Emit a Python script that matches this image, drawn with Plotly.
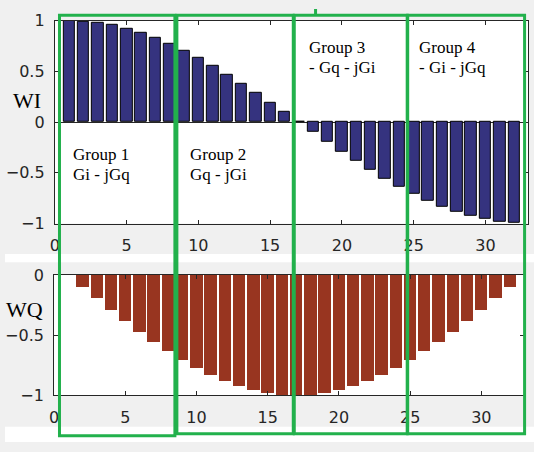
import plotly.graph_objects as go
from plotly.subplots import make_subplots

W, H = 534, 452

# bar index 1..32
idx = list(range(1, 33))

# values
wi = [1.00, 0.995, 0.981, 0.957, 0.924, 0.882, 0.831, 0.773,
      0.707, 0.634, 0.556, 0.471, 0.383, 0.290, 0.195, 0.098,
      0.0, -0.098, -0.195, -0.290, -0.383, -0.471, -0.556, -0.634,
      -0.707, -0.773, -0.831, -0.882, -0.924, -0.957, -0.981, -0.995]
wq = [0.0, -0.098, -0.195, -0.290, -0.383, -0.471, -0.556, -0.634,
      -0.707, -0.773, -0.831, -0.882, -0.924, -0.957, -0.981, -0.995,
      -1.0, -0.995, -0.981, -0.957, -0.924, -0.882, -0.831, -0.773,
      -0.707, -0.634, -0.556, -0.471, -0.383, -0.290, -0.195, -0.098]

x_ticks = [0, 5, 10, 15, 20, 25, 30]
wi_ticks = [-1, -0.5, 0, 0.5, 1]
wq_ticks = [-1, -0.5, 0]

group_titles = ["Group 1", "Group 2", "Group 3", "Group 4"]
group_formulas = ["Gi - jGq", "Gq - jGi", "- Gq - jGi", "- Gi - jGq"]

BLUE = "#35337f"
RED = "#983520"
GREEN = "#22b14c"
AXC = "#262626"


def px_x(p):
    return p / W


def px_y(p):
    return 1 - p / H


fig = make_subplots(rows=2, cols=1)

fig.add_trace(go.Bar(x=idx, y=wi, width=0.8, marker=dict(color=BLUE, line=dict(color="black", width=1)),
                     showlegend=False), row=1, col=1)
fig.add_trace(go.Bar(x=idx, y=wq, width=0.87, marker=dict(color=RED, line=dict(color=RED, width=0)),
                     showlegend=False), row=2, col=1)

tick_font = dict(family="DejaVu Sans", size=16, color=AXC)
axis_common = dict(showline=True, linecolor=AXC, linewidth=1, mirror="ticks", ticks="inside",
                   ticklen=4, tickcolor=AXC, showgrid=False, tickfont=tick_font, fixedrange=True)

fig.update_xaxes(axis_common, range=[0, 33], tickvals=x_ticks, ticklabelstandoff=7, zeroline=False)
fig.update_yaxes(axis_common, ticklabelstandoff=6)

fig.update_layout(
    xaxis=dict(domain=[px_x(50.3), px_x(528.4)]),
    yaxis=dict(domain=[px_y(224), px_y(12.3)], range=[-1, 1], tickvals=wi_ticks,
               ticktext=["\u22121", "\u22120.5", "0", "0.5", "1"],
               zeroline=True, zerolinecolor=AXC, zerolinewidth=1),
    xaxis2=dict(domain=[px_x(49.6), px_x(524)]),
    yaxis2=dict(domain=[px_y(403.3), px_y(277.7)], range=[-1, 0], tickvals=wq_ticks,
                ticktext=["\u22121", "\u22120.5", "0"], zeroline=False),
)

# panel backgrounds: grey figure, white gaps between the two screenshots
shapes = [
    dict(type="rect", xref="paper", yref="paper", x0=0, x1=1, y0=px_y(264.3), y1=px_y(255.7),
         fillcolor="white", line=dict(width=0), layer="below"),
    dict(type="rect", xref="paper", yref="paper", x0=0, x1=1, y0=0, y1=px_y(436),
         fillcolor="white", line=dict(width=0), layer="below"),
]

# green group boxes
boxes = [(55, 171.5, 6.5, 445.5), (173.5, 291, 6.5, 443.5),
         (292, 406, 6.5, 443.5), (406.5, 524.5, 6.5, 443.5)]
for x0, x1, y0, y1 in boxes:
    shapes.append(dict(type="rect", xref="paper", yref="paper",
                       x0=px_x(x0), x1=px_x(x1), y0=px_y(y1), y1=px_y(y0),
                       line=dict(color=GREEN, width=3), fillcolor="rgba(0,0,0,0)", layer="above"))
shapes.append(dict(type="line", xref="paper", yref="paper", x0=px_x(313.5), x1=px_x(313.5),
                   y0=px_y(6.5), y1=1, line=dict(color=GREEN, width=3), layer="above"))

annotations = []
label_pos = [(67, 152), (185, 152), (305, 40), (416, 40)]
for (lx, ly), title, formula in zip(label_pos, group_titles, group_formulas):
    annotations.append(dict(xref="paper", yref="paper", x=px_x(lx), y=px_y(ly), text=title,
                            showarrow=False, xanchor="left", yanchor="middle",
                            font=dict(family="Liberation Serif", size=17, color="black")))
    annotations.append(dict(xref="paper", yref="paper", x=px_x(lx), y=px_y(ly + 21), text=formula,
                            showarrow=False, xanchor="left", yanchor="middle",
                            font=dict(family="Liberation Serif", size=17, color="black")))

annotations.append(dict(xref="paper", yref="paper", x=px_x(22), y=px_y(96), text="WI", showarrow=False,
                        xanchor="center", yanchor="middle",
                        font=dict(family="Liberation Serif", size=22, color="black")))
annotations.append(dict(xref="paper", yref="paper", x=px_x(20), y=px_y(314), text="WQ", showarrow=False,
                        xanchor="center", yanchor="middle",
                        font=dict(family="Liberation Serif", size=22, color="black")))

fig.update_layout(
    width=W, height=H,
    margin=dict(l=0, r=0, t=0, b=0),
    paper_bgcolor="#f0f0f0",
    plot_bgcolor="white",
    bargap=0,
    shapes=shapes,
    annotations=annotations,
    showlegend=False,
)

# the page is photographed at exactly the figure size, so drop the default body margin
fig.write_html("out.html", config={"displayModeBar": False},
               post_script="document.body.style.margin='0';document.body.style.overflow='hidden';")
